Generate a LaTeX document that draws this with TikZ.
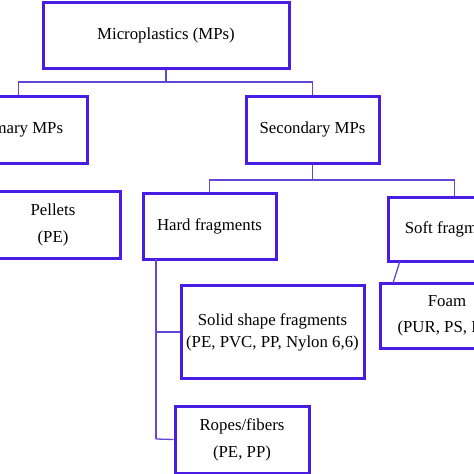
\documentclass[tikz,border=0pt]{standalone}
\usepackage{fontspec}
\setmainfont{Liberation Serif}
\definecolor{boxblue}{RGB}{72,28,226}
\definecolor{linkblue}{RGB}{100,70,215}
\begin{document}
\begin{tikzpicture}[x=1pt,y=-1pt,
  box/.style={draw=boxblue,line width=3pt,fill=white,inner sep=0pt,align=center,
    font=\fontsize{16.8}{27}\selectfont},
  link/.style={draw=linkblue,line width=1.3pt}]
\useasboundingbox (0,0) rectangle (474,474);
\node[box,minimum width=246pt,minimum height=66pt] (micro) at (166,35) {Microplastics (MPs)};
\node[box,minimum width=137pt,minimum height=67pt] (prim) at (18.5,129.5) {Primary MPs};
\node[box,minimum width=133pt,minimum height=67pt] (sec) at (312.5,129.5) {Secondary MPs};
\node[box,minimum width=134pt,minimum height=67pt] (pel) at (53,224.5) {Pellets\\(PE)};
\node[box,minimum width=133pt,minimum height=66pt] (hard) at (209.5,226) {Hard fragments};
\node[box,minimum width=133pt,minimum height=64pt] (soft) at (454.5,229) {Soft fragments};
\node[box,minimum width=134pt,minimum height=65pt,font=\fontsize{16.8}{26}\selectfont] (foam) at (447,315.5) {Foam\\(PUR, PS, PE)};
\node[box,minimum width=183pt,minimum height=93pt,font=\fontsize{16.8}{22}\selectfont] (solid) at (272.5,332) {Solid shape fragments\\(PE, PVC, PP, Nylon 6,6)};
\node[box,minimum width=134pt,minimum height=67pt] (rope) at (242,439.5) {Ropes/fibers\\(PE, PP)};
\coordinate (m1) at (166,82);
\coordinate (s1) at (312.5,180);
\coordinate (h1) at (156,259);
\coordinate (h2) at (156,332);
\coordinate (h3) at (156,439);
\coordinate (sf) at (400,261);
\coordinate (ff) at (393,283);
\begin{scope}[on background layer/.style={}]
\draw[link] (micro.south) -- (m1);
\draw[link] (m1) -| (prim.north);
\draw[link] (m1) -| (sec.north);
\draw[link] (sec.south) -- (s1);
\draw[link] (s1) -| (hard.north);
\draw[link] (s1) -| (soft.north);
\draw[link] (h1) -- (h3);
\draw[link] (h2) -- (solid.west);
\draw[link] (h3) -- (rope.west);
\draw[link] (sf) -- (ff);
\end{scope}
\end{tikzpicture}
\end{document}
